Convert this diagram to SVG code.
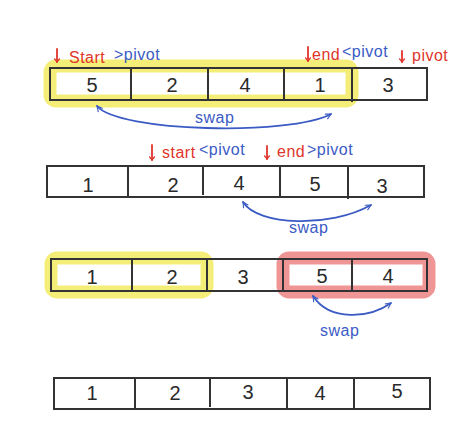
<svg xmlns="http://www.w3.org/2000/svg" width="474" height="436" viewBox="0 0 474 436">
<style>
.box{fill:#fff;stroke:#333;stroke-width:2}
.div{stroke:#333;stroke-width:2}
.num{font-family:"Liberation Sans",Arial,sans-serif;font-size:20px;fill:#2a2a2a;text-anchor:middle}
.red{font-family:"Liberation Sans",Arial,sans-serif;font-size:16px;letter-spacing:0.5px;fill:#e0352b}
.blue{font-family:"Liberation Sans",Arial,sans-serif;font-size:16px;letter-spacing:0.5px;fill:#3b5bc4}
.hy{fill:none;stroke:#f3ec6a;stroke-width:13;stroke-linejoin:round;opacity:0.9}
.hr{fill:none;stroke:#ee8a8a;stroke-width:13;stroke-linejoin:round;opacity:0.9}
.swap{fill:none;stroke:#3b5bc4;stroke-width:1.8;stroke-linecap:round}
.down{stroke:#e0352b;stroke-width:1.8;fill:none;stroke-linecap:round}
</style>
<defs>
<marker id="ah" viewBox="0 0 10 10" refX="9" refY="5" markerWidth="7" markerHeight="7" orient="auto-start-reverse" markerUnits="userSpaceOnUse">
<path d="M1,1 L9,5 L1,9" fill="none" stroke="#3b5bc4" stroke-width="1.6"/>
</marker>
<marker id="dh" viewBox="0 0 10 10" refX="5" refY="9" markerWidth="7" markerHeight="7" orient="0" markerUnits="userSpaceOnUse">
<path d="M1,4 L5,9 L9,4" fill="none" stroke="#e0352b" stroke-width="1.8"/>
</marker>
</defs>
<rect width="474" height="436" fill="#fff"/>

<g id="row1">
<rect class="box" x="50" y="68" width="377" height="32"/>
<rect class="hy" x="50" y="66" width="302" height="35" rx="6"/>
<rect x="50" y="68" width="377" height="32" fill="none" stroke="#333" stroke-width="2"/>
<line class="div" x1="131" y1="68" x2="131" y2="100"/>
<line class="div" x1="208" y1="68" x2="208" y2="100"/>
<line class="div" x1="284" y1="68" x2="284" y2="100"/>
<line class="div" x1="352" y1="68" x2="352" y2="102"/>
<text class="num" x="92" y="92">5</text>
<text class="num" x="172" y="92">2</text>
<text class="num" x="245" y="92">4</text>
<text class="num" x="320" y="92">1</text>
<text class="num" x="388" y="92">3</text>
</g>
<g id="row1-labels">
<line class="down" x1="57" y1="49" x2="57" y2="62" marker-end="url(#dh)"/>
<text class="red" x="69" y="63">Start</text>
<text class="blue" x="114" y="60">&gt;pivot</text>
<line class="down" x1="308" y1="47" x2="308" y2="61" marker-end="url(#dh)"/>
<text class="red" x="312" y="60">end</text>
<text class="blue" x="342" y="57">&lt;pivot</text>
<line class="down" x1="402" y1="51" x2="402" y2="62" marker-end="url(#dh)"/>
<text class="red" x="412" y="61">pivot</text>
</g>

<g id="row2">
<rect class="box" x="47" y="166" width="377" height="31"/>
<line class="div" x1="128" y1="166" x2="128" y2="197"/>
<line class="div" x1="203" y1="166" x2="203" y2="195"/>
<line class="div" x1="280" y1="166" x2="280" y2="197"/>
<line class="div" x1="348" y1="166" x2="348" y2="199"/>
<text class="num" x="88" y="192">1</text>
<text class="num" x="173" y="192">2</text>
<text class="num" x="239" y="190">4</text>
<text class="num" x="315" y="191">5</text>
<text class="num" x="382" y="193">3</text>
</g>
<g id="row2-labels">
<line class="down" x1="152" y1="145" x2="152" y2="160" marker-end="url(#dh)"/>
<text class="red" x="162" y="158">start</text>
<text class="blue" x="199" y="155">&lt;pivot</text>
<line class="down" x1="267" y1="146" x2="267" y2="159" marker-end="url(#dh)"/>
<text class="red" x="277" y="157">end</text>
<text class="blue" x="307" y="155">&gt;pivot</text>
</g>

<g id="row3">
<rect class="box" x="51" y="259" width="376" height="32"/>
<rect class="hy" x="51" y="258" width="156" height="34" rx="6"/>
<rect class="hr" x="283" y="258" width="146" height="34" rx="6"/>
<rect x="51" y="259" width="376" height="32" fill="none" stroke="#333" stroke-width="2"/>
<line class="div" x1="132" y1="259" x2="132" y2="291"/>
<line class="div" x1="207" y1="259" x2="207" y2="291"/>
<line class="div" x1="283" y1="259" x2="283" y2="291"/>
<line class="div" x1="352" y1="259" x2="352" y2="291"/>
<text class="num" x="92" y="284">1</text>
<text class="num" x="172" y="284">2</text>
<text class="num" x="243" y="284">3</text>
<text class="num" x="322" y="283">5</text>
<text class="num" x="388" y="283">4</text>
</g>

<g id="row4">
<rect class="box" x="54" y="378" width="376" height="31"/>
<line class="div" x1="135" y1="378" x2="135" y2="409"/>
<line class="div" x1="210" y1="378" x2="210" y2="407"/>
<line class="div" x1="287" y1="378" x2="287" y2="409"/>
<line class="div" x1="354" y1="378" x2="354" y2="410"/>
<text class="num" x="92" y="400">1</text>
<text class="num" x="175" y="400">2</text>
<text class="num" x="248" y="399">3</text>
<text class="num" x="320" y="400">4</text>
<text class="num" x="397" y="398">5</text>
</g>

<g id="connectors">
<path class="swap" d="M97,106 C118,132 290,136 331,114" marker-start="url(#ah)" marker-end="url(#ah)"/>
<text class="blue" x="195" y="123">swap</text>
<path class="swap" d="M243,202 C258,226 330,228 371,205" marker-start="url(#ah)" marker-end="url(#ah)"/>
<text class="blue" x="289" y="233">swap</text>
<path class="swap" d="M313,296 C330,322 370,318 391,303" marker-start="url(#ah)" marker-end="url(#ah)"/>
<text class="blue" x="320" y="336">swap</text>
</g>
</svg>
